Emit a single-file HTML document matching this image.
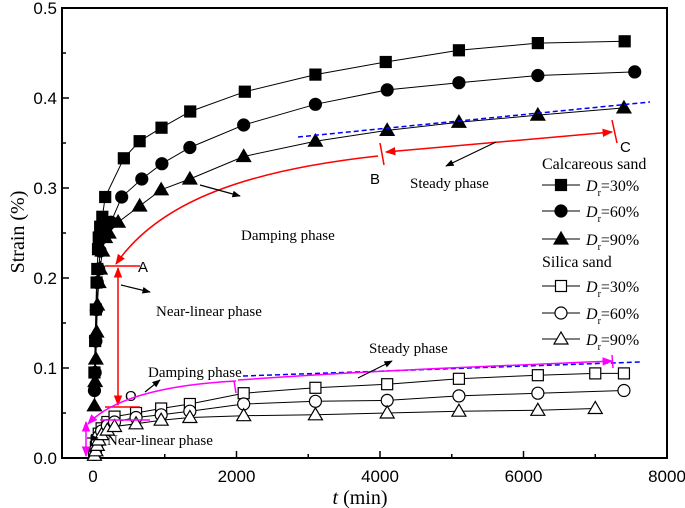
<!DOCTYPE html>
<html><head><meta charset="utf-8"><style>
html,body{margin:0;padding:0;background:#fff;}
svg{display:block;font-family:"Liberation Sans",sans-serif;}
.serif{font-family:"Liberation Serif",serif;}
</style></head><body>
<svg id="chart" width="685" height="508" viewBox="0 0 685 508"></svg>
<script>
const xTicks=[0,2000,4000,6000,8000];
const yTicks=[0.0,0.1,0.2,0.3,0.4,0.5];
const calc30T=[20,30,40,50,60,70,80,100,130,170,430,650,955,1355,2116,3100,4080,5100,6200,7410];
const calc30S=[0.095,0.13,0.165,0.195,0.21,0.232,0.245,0.257,0.268,0.29,0.333,0.352,0.367,0.385,0.407,0.426,0.44,0.453,0.461,0.463];
const calc60T=[20,30,40,50,60,80,100,130,170,250,400,680,960,1350,2100,3100,4100,5100,6200,7550];
const calc60S=[0.075,0.095,0.13,0.165,0.195,0.21,0.23,0.245,0.255,0.262,0.29,0.31,0.327,0.345,0.37,0.393,0.409,0.417,0.425,0.429];
const calc90T=[20,30,40,50,60,80,100,130,170,220,350,650,950,1350,2100,3100,4100,5100,6200,7400];
const calc90S=[0.058,0.085,0.11,0.14,0.17,0.195,0.21,0.23,0.245,0.25,0.262,0.28,0.298,0.31,0.335,0.352,0.364,0.373,0.381,0.389];
const sil30T=[20,40,60,80,120,200,300,600,950,1350,2100,3100,4100,5100,6200,7000,7400];
const sil30S=[0.005,0.012,0.02,0.027,0.033,0.04,0.046,0.05,0.055,0.06,0.072,0.078,0.082,0.088,0.092,0.094,0.094];
const sil60T=[20,40,60,80,120,200,300,600,950,1350,2100,3100,4100,5100,6200,7400];
const sil60S=[0.004,0.01,0.017,0.024,0.03,0.036,0.04,0.045,0.048,0.052,0.06,0.063,0.064,0.069,0.072,0.075];
const sil90T=[20,40,60,80,120,200,300,600,950,1350,2100,3100,4100,5100,6200,7000];
const sil90S=[0.003,0.008,0.014,0.02,0.026,0.031,0.035,0.038,0.042,0.045,0.047,0.048,0.05,0.052,0.053,0.055];

const NS="http://www.w3.org/2000/svg";
const svg=document.getElementById('chart');
const X=t=>93+t*(667-93)/8000;
const Y=s=>458-s*900;
function mk(tag,attrs,parent){const e=document.createElementNS(NS,tag);for(const k in attrs)e.setAttribute(k,attrs[k]);(parent||svg).appendChild(e);return e;}
function txt(x,y,s,attrs,parent){const e=mk('text',Object.assign({x:x,y:y},attrs||{}),parent);e.textContent=s;return e;}

const frame=mk('rect',{x:62,y:8,width:605,height:450,fill:'none',stroke:'#000','stroke-width':2});


xTicks.forEach(v=>{
  mk('line',{x1:X(v),x2:X(v),y1:458,y2:451,stroke:'#000','stroke-width':1.5});
  const t=txt(X(v),482,String(v),{'text-anchor':'middle','font-size':17});
  
  
});
[1000,3000,5000,7000].forEach(v=>mk('line',{x1:X(v),x2:X(v),y1:458,y2:454,stroke:'#000','stroke-width':1.5}));
yTicks.forEach(v=>{
  mk('line',{x1:62,x2:69,y1:Y(v),y2:Y(v),stroke:'#000','stroke-width':1.5});
  const t=txt(57,Y(v)+6,v.toFixed(1),{'text-anchor':'end','font-size':17});
  
  
});
[0.05,0.15,0.25,0.35,0.45].forEach(v=>mk('line',{x1:62,x2:66,y1:Y(v),y2:Y(v),stroke:'#000','stroke-width':1.5}));
const xt=txt(360,504,'',{'text-anchor':'middle','font-size':20,'font-family':'Liberation Serif, serif'});
xt.innerHTML='<tspan font-style="italic">t</tspan> (min)';


const yt=txt(0,0,'Strain  (%)',{'font-size':20,'font-family':'Liberation Serif, serif','text-anchor':'middle',transform:'translate(24,232) rotate(-90)'});



function marker(g,type,fill,x,y){
  const f=fill?'#000':'#fff';
  if(type==='s')mk('rect',{x:x-5.5,y:y-5.5,width:11,height:11,fill:f,stroke:'#000','stroke-width':1.2},g);
  else if(type==='c')mk('circle',{cx:x,cy:y,r:6,fill:f,stroke:'#000','stroke-width':1.2},g);
  else mk('polygon',{points:`${x},${y-7} ${x-7},${y+5} ${x+7},${y+5}`,fill:f,stroke:'#000','stroke-width':1.2},g);
}
function series(name,T,S,type,fill){
  const g=mk('g',{});
  
  
  mk('polyline',{points:T.map((t,i)=>X(t)+','+Y(S[i])).join(' '),fill:'none',stroke:'#000','stroke-width':1},g);
  T.forEach((t,i)=>marker(g,type,fill,X(t),Y(S[i])));
}
series('series-silica-30',sil30T,sil30S,'s',false);
series('series-silica-60',sil60T,sil60S,'c',false);
series('series-silica-90',sil90T,sil90S,'t',false);
series('series-calcareous-90',calc90T,calc90S,'t',true);
series('series-calcareous-60',calc60T,calc60S,'c',true);
series('series-calcareous-30',calc30T,calc30S,'s',true);

const ann=mk('g',{});


ann.innerHTML=`
<defs>
<marker id="ar" viewBox="0 0 10 10" refX="9" refY="5" markerWidth="7" markerHeight="7" orient="auto-start-reverse"><path d="M0,1 L10,5 L0,9z" fill="red"/></marker>
<marker id="am" viewBox="0 0 10 10" refX="9" refY="5" markerWidth="7" markerHeight="7" orient="auto-start-reverse"><path d="M0,1 L10,5 L0,9z" fill="#f0f"/></marker>
<marker id="ak" viewBox="0 0 10 10" refX="9" refY="5" markerWidth="7" markerHeight="7" orient="auto"><path d="M0,1 L10,5 L0,9z" fill="#000"/></marker>
</defs>
<line x1="298" y1="137" x2="650" y2="102" stroke="#00f" stroke-width="1.5" stroke-dasharray="5,3"/>
<line x1="243" y1="376" x2="640" y2="362" stroke="#00f" stroke-width="1.5" stroke-dasharray="5,3"/>
<line x1="105" y1="266" x2="140" y2="266" stroke="red" stroke-width="1.5"/>
<line x1="105" y1="407" x2="140" y2="407" stroke="red" stroke-width="1.5"/>
<line x1="118" y1="268" x2="118" y2="405" stroke="red" stroke-width="1.5" marker-start="url(#ar)" marker-end="url(#ar)"/>
<path d="M378,156 C250,170 160,200 116,264" fill="none" stroke="red" stroke-width="1.5" marker-end="url(#ar)"/>
<line x1="380" y1="143" x2="384" y2="165" stroke="red" stroke-width="1.5"/>
<line x1="612" y1="120" x2="617" y2="143" stroke="red" stroke-width="1.5"/>
<line x1="386" y1="152" x2="612" y2="132" stroke="red" stroke-width="1.5" marker-start="url(#ar)" marker-end="url(#ar)"/>
<text x="138" y="272" font-size="15">A</text>
<text x="370" y="184" font-size="15">B</text>
<text x="620" y="152" font-size="15">C</text>
<text x="125" y="401" font-size="15">O</text>
<line x1="100" y1="420" x2="150" y2="420" stroke="#f0f" stroke-width="1.5"/>
<line x1="86" y1="422" x2="86" y2="456" stroke="#f0f" stroke-width="1.5" marker-start="url(#am)" marker-end="url(#am)"/>
<path d="M236,381 C160,385 110,400 88,424" fill="none" stroke="#f0f" stroke-width="1.5" marker-end="url(#am)"/>
<line x1="234" y1="381" x2="236" y2="393" stroke="#f0f" stroke-width="1.5"/>
<path d="M238,380 C380,370 500,366 612,361" fill="none" stroke="#f0f" stroke-width="1.5" marker-end="url(#am)"/>
<line x1="612" y1="355" x2="613" y2="368" stroke="#f0f" stroke-width="1.5"/>
<line x1="145" y1="392" x2="160" y2="380" stroke="#000" stroke-width="1.2" marker-end="url(#ak)"/>
<line x1="358" y1="378" x2="392" y2="361" stroke="#000" stroke-width="1.2" marker-end="url(#ak)"/>
<line x1="121" y1="285" x2="150" y2="292" stroke="#000" stroke-width="1.2" marker-end="url(#ak)"/>
<line x1="200" y1="185" x2="240" y2="196" stroke="#000" stroke-width="1.2" marker-end="url(#ak)"/>
<line x1="496" y1="142" x2="446" y2="166" stroke="#000" stroke-width="1.2" marker-end="url(#ak)"/>
<line x1="87" y1="438" x2="98" y2="438" stroke="#000" stroke-width="1.2" marker-end="url(#ak)"/>
<g font-family="Liberation Serif, serif" font-size="15">
<text x="241" y="240">Damping phase</text>
<text x="410" y="188">Steady phase</text>
<text x="156" y="316">Near-linear phase</text>
<text x="148" y="377">Damping phase</text>
<text x="369" y="353">Steady phase</text>
<text x="107" y="445">Near-linear phase</text>
</g>`;

const lg=mk('g',{'font-family':'Liberation Serif, serif'});


txt(542,169,'Calcareous sand',{'font-size':16},lg);
txt(542,267,'Silica sand',{'font-size':16},lg);
const entries=[['s',true,185,'30%'],['c',true,211,'60%'],['t',true,239,'90%'],['s',false,286,'30%'],['c',false,313,'60%'],['t',false,339,'90%']];
entries.forEach(e=>{
  const g=mk('g',{},lg);
  
  
  mk('line',{x1:542,x2:580,y1:e[2],y2:e[2],stroke:'#000','stroke-width':1},g);
  marker(g,e[0],e[1],561,e[2]);
  const t=txt(586,e[2]+6,'',{'font-size':16},g);
  t.innerHTML='<tspan font-style="italic">D</tspan><tspan font-size="10" dy="5">r</tspan><tspan dy="-5">='+e[3]+'</tspan>';
});
</script>
</body></html>
